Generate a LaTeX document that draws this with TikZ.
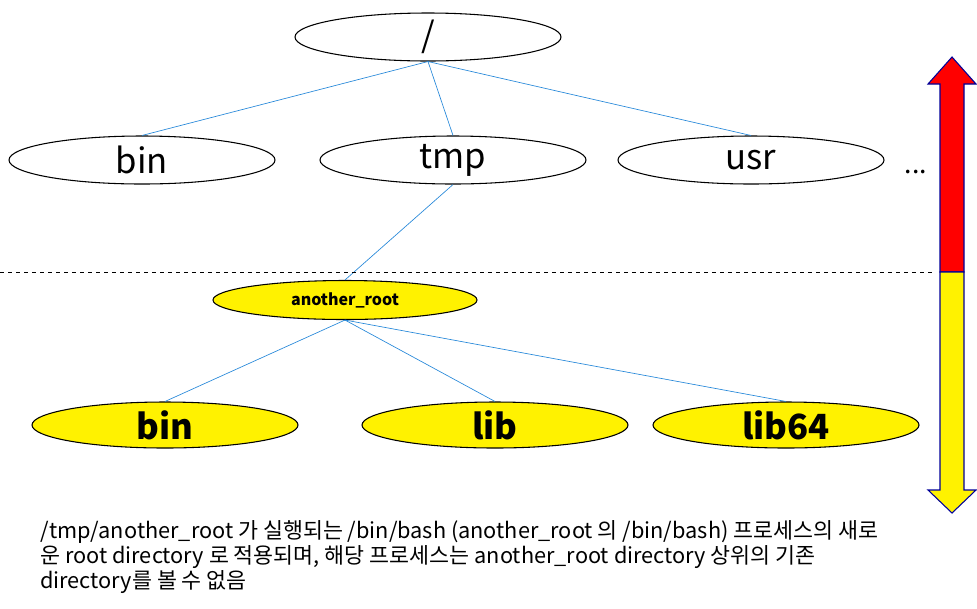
\documentclass[tikz,border=0pt]{standalone}
\usepackage{fontspec}
\setmainfont{Noto Sans CJK KR}
\usetikzlibrary{shapes.geometric}
\begin{document}
\begin{tikzpicture}[x=0.75pt,y=-0.75pt,
  ell/.style={ellipse,draw=black,line width=0.8pt,inner sep=0pt,minimum width=266*0.75pt,minimum height=48*0.75pt,font=\fontsize{26}{28}\selectfont},
  yell/.style={ell,fill=yellow,font=\bfseries\fontsize{26}{28}\selectfont,minimum height=46*0.75pt},
  link/.style={draw=blue!45!cyan!70!gray,line width=0.5pt}]
\useasboundingbox (0,0) rectangle (977,608);
\node[ell] (root) at (428,37) {\raisebox{-2pt}{/}};
\node[ell] (bin) at (142,160) {\raisebox{-2pt}{bin}};
\node[ell] (tmp) at (453,160) {\raisebox{-2pt}{tmp}};
\node[ell] (usr) at (751,160) {\raisebox{-2pt}{usr}};
\node (dots) at (916,172) {\fontsize{20}{22}\selectfont ...};
\node[yell,minimum width=264*0.75pt,minimum height=39*0.75pt,font=\bfseries\fontsize{12}{14}\selectfont] (ar) at (345,300) {another\_root};
\node[yell] (bin2) at (165,425) {bin};
\node[yell] (lib) at (495,425) {lib};
\node[yell] (lib64) at (786,425) {lib64};
\draw[link] (root.south) -- (bin.north);
\draw[link] (root.south) -- (tmp.north);
\draw[link] (root.south) -- (usr.north);
\draw[link] (tmp.south) -- (ar.north);
\draw[link] (ar.south) -- (bin2.north);
\draw[link] (ar.south) -- (lib.north);
\draw[link] (ar.south) -- (lib64.north);
\draw[dashed,line width=0.5pt] (0,272) -- (935,272);
\draw[fill=red,draw=blue!60!black,line width=0.8pt] (952,57) -- (976,84) -- (964,84) -- (964,272) -- (940,272) -- (940,84) -- (928,84) -- cycle;
\draw[fill=yellow,draw=blue!60!black,line width=0.8pt] (940,272) -- (964,272) -- (964,490) -- (976,490) -- (952,513) -- (928,490) -- (940,490) -- cycle;
\node[anchor=north west,align=left,inner sep=0pt,font=\fontsize{16.3}{18.75}\selectfont] (txt) at (40,520) {/tmp/another\_root 가 실행되는 /bin/bash (another\_root 의 /bin/bash) 프로세스의 새로\\운 root directory 로 적용되며, 해당 프로세스는 another\_root directory 상위의 기존\\directory를 볼 수 없음};
\end{tikzpicture}
\end{document}
